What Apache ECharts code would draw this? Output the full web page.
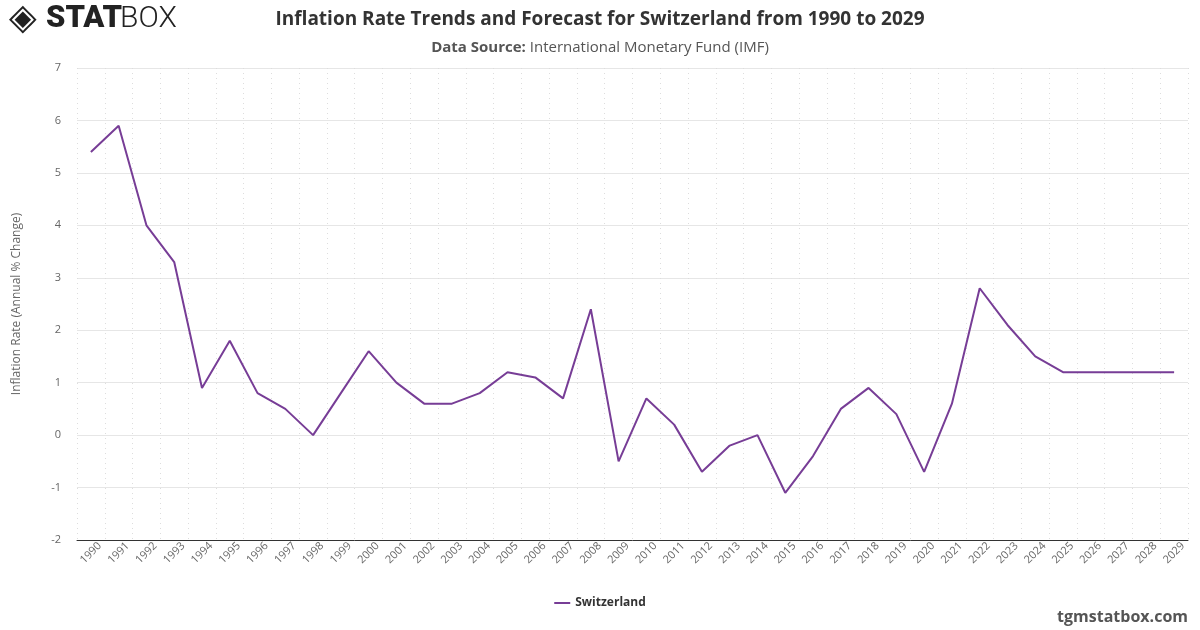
<!DOCTYPE html>
<html>
<head>
<meta charset="utf-8">
<script src="https://cdn.jsdelivr.net/npm/echarts@6/dist/echarts.min.js"></script>
<style>
html,body{margin:0;padding:0;background:#fff;}
#chart{width:1200px;height:630px;}
</style>
</head>
<body>
<div id="chart"></div>
<script>
const years = ['1990','1991','1992','1993','1994','1995','1996','1997','1998','1999',
  '2000','2001','2002','2003','2004','2005','2006','2007','2008','2009',
  '2010','2011','2012','2013','2014','2015','2016','2017','2018','2019',
  '2020','2021','2022','2023','2024','2025','2026','2027','2028','2029'];
const switzerland = [5.4,5.9,4.0,3.3,0.9,1.8,0.8,0.5,0.0,0.8,
  1.6,1.0,0.6,0.6,0.8,1.2,1.1,0.7,2.4,-0.5,
  0.7,0.2,-0.7,-0.2,0.0,-1.1,-0.4,0.5,0.9,0.4,
  -0.7,0.6,2.8,2.1,1.5,1.2,1.2,1.2,1.2,1.2];
const yTicks = [-2,-1,0,1,2,3,4,5,6,7];

const chart = echarts.init(document.getElementById('chart'));
const font = '"Open Sans", "Noto Sans", sans-serif';
chart.setOption({
  animation: false,
  backgroundColor: '#fff',
  textStyle: { fontFamily: font },
  title: [{
    text: 'Inflation Rate Trends and Forecast for Switzerland from 1990 to 2029',
    left: 'center', top: 5,
    textStyle: { fontSize: 19, fontWeight: 'bold', color: '#333', fontFamily: font }
  }, {
    text: '{b|Data Source:} {n|International Monetary Fund (IMF)}',
    left: 'center', top: 35,
    textStyle: {
      fontWeight: 'normal', fontSize: 15, color: '#555', fontFamily: font,
      rich: {
        b: { fontSize: 15, fontWeight: 'bold', color: '#555', fontFamily: font },
        n: { fontSize: 15, fontWeight: 'normal', color: '#555', fontFamily: font }
      }
    }
  }],
  graphic: [
    { type: 'text', left: 9, top: 2, style: { text: '◈', fontSize: 36, fontWeight: 'bold', fill: '#222', fontFamily: '"DejaVu Sans", sans-serif' } },
    { type: 'text', left: 46, top: 4, style: { text: 'STAT', fontSize: 31, fontWeight: 900, fill: '#222', fontFamily: '"Roboto", "Open Sans", sans-serif' } },
    { type: 'text', left: 120, top: 4, style: { text: 'BOX', fontSize: 30, fontWeight: 300, fill: '#222', fontFamily: '"Roboto", "Open Sans", sans-serif' } },
    { type: 'text', right: 12, top: 609, style: { text: 'tgmstatbox.com', fontSize: 16, fontWeight: 'bold', fill: '#555', fontFamily: font } }
  ],
  legend: {
    bottom: 16, left: 'center',
    icon: 'rect', itemWidth: 16, itemHeight: 2,
    textStyle: { fontSize: 12, fontWeight: 'bold', color: '#333', fontFamily: font },
    data: ['Switzerland']
  },
  grid: { left: 77, right: 12, top: 68, bottom: 90, containLabel: false },
  xAxis: {
    type: 'category', data: years, boundaryGap: true,
    axisLine: { onZero: false, lineStyle: { color: '#333', width: 1 } },
    axisTick: { show: false },
    axisLabel: { rotate: 45, fontSize: 11, color: '#666', margin: 13, interval: 0, align: 'center', verticalAlign: 'middle' },
    splitLine: { show: true, lineStyle: { color: '#ddd', type: [1, 4], width: 1 } }
  },
  yAxis: {
    type: 'value', min: -2, max: 7, interval: 1,
    name: 'Inflation Rate (Annual % Change)', nameLocation: 'middle', nameGap: 54,
    nameTextStyle: { fontSize: 12, color: '#666' },
    axisLine: { show: false }, axisTick: { show: false },
    axisLabel: { fontSize: 11, color: '#666', margin: 16 },
    splitLine: { lineStyle: { color: '#e6e6e6', width: 1 } }
  },
  series: [{
    name: 'Switzerland', type: 'line', data: switzerland,
    showSymbol: false, symbol: 'none',
    lineStyle: { color: '#773d96', width: 2 },
    itemStyle: { color: '#773d96' }
  }]
});
</script>
</body>
</html>
